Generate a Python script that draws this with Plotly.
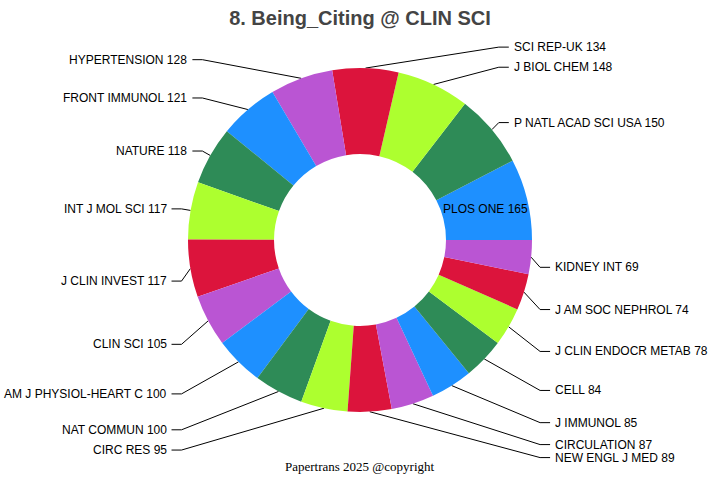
import numpy as np
import plotly.graph_objects as go

# ---- data ----
journals = ["PLOS ONE", "P NATL ACAD SCI USA", "J BIOL CHEM", "SCI REP-UK",
            "HYPERTENSION", "FRONT IMMUNOL", "NATURE", "INT J MOL SCI",
            "J CLIN INVEST", "CLIN SCI", "AM J PHYSIOL-HEART C", "NAT COMMUN",
            "CIRC RES", "NEW ENGL J MED", "CIRCULATION", "J IMMUNOL", "CELL",
            "J CLIN ENDOCR METAB", "J AM SOC NEPHROL", "KIDNEY INT"]
counts = [165, 150, 148, 134, 128, 121, 118, 117, 117, 105,
          100, 100, 95, 89, 87, 85, 84, 78, 74, 69]
palette = ["#1E90FF", "#2E8B57", "#ADFF2F", "#DC143C", "#BA55D3"]

title_text = "8. Being_Citing @ CLIN SCI"
footer_text = "Papertrans 2025 @copyright"

# ---- geometry (pixels) ----
W, H = 720, 480
cx, cy = 360, 240
R = 172          # outer radius
HOLE = 0.5
R1 = R + 9       # first bend radius of leader lines
SEG2 = 10        # horizontal part of leader line
GAP = 3
MIN_DY = 13
FONT = "Liberation Sans, Arial, sans-serif"

vals = np.array(counts, dtype=float)
ends = np.cumsum(vals) / vals.sum() * 360
starts = ends - vals / vals.sum() * 360
mids = np.deg2rad((starts + ends) / 2)   # counterclockwise from 3 o'clock

colors = [palette[i % len(palette)] for i in range(len(counts))]

fig = go.Figure()
# plotly puts the far edge of the first slice at `rotation` when counterclockwise
fig.add_trace(go.Pie(
    labels=journals, values=counts, sort=False,
    direction="counterclockwise", rotation=90 - (ends[0] - starts[0]), hole=HOLE,
    marker=dict(colors=colors, line=dict(width=0)),
    textinfo="none", hoverinfo="label+value", showlegend=False,
    domain=dict(x=[(cx - R) / W, (cx + R) / W],
                y=[(H - cy - R) / H, (H - cy + R) / H]),
))

# ---- label layout ----
items = []
for i in range(1, len(counts)):
    s, c = np.sin(mids[i]), np.cos(mids[i])
    side = 1 if c >= 0 else -1
    if s > 0:
        y = cy - R1 * s - 30 * max(0.0, s - 0.6)   # spread the top labels a bit
    else:
        y = cy - R1 * s * 1.15 + 6.5               # spread the bottom labels
    grp = "up" if s > 0.3 else "down"
    items.append(dict(i=i, s=s, c=c, side=side, grp=grp, y=y))

# no overlap on each side
for side in (1, -1):
    sel = sorted([it for it in items if it["side"] == side], key=lambda d: d["y"])
    for a, b in zip(sel, sel[1:]):
        if b["y"] - a["y"] < MIN_DY:
            b["y"] = a["y"] + MIN_DY

# aligned bend x per side / group
bend = {}
for it in items:
    key = (it["side"], it["grp"])
    bend[key] = max(bend.get(key, 0), R1 * abs(it["c"]))

lx, ly = [], []
annotations = []
for it in items:
    i = it["i"]
    bx = cx + it["side"] * bend[(it["side"], it["grp"])]
    ex = bx + it["side"] * SEG2
    px = cx + R * it["c"]
    py = cy - R * it["s"]
    lx += [px, bx, ex, None]
    ly += [py, it["y"], it["y"], None]
    annotations.append(dict(
        x=ex + it["side"] * GAP, y=it["y"], xref="x", yref="y",
        text=f"{journals[i]} {counts[i]}", showarrow=False,
        xanchor="left" if it["side"] > 0 else "right", yanchor="middle",
        font=dict(family=FONT, size=12, color="black")))

# first slice label sits inside the ring
rm = R * (1 + HOLE) / 2
annotations.append(dict(
    x=cx + rm * np.cos(mids[0]), y=cy - rm * np.sin(mids[0]), xref="x", yref="y",
    text=f"{journals[0]} {counts[0]}", showarrow=False,
    xanchor="center", yanchor="middle",
    font=dict(family=FONT, size=12, color="black")))

annotations.append(dict(
    x=cx, y=466, xref="x", yref="y", text=footer_text, showarrow=False,
    xanchor="center", yanchor="middle",
    font=dict(family="Liberation Serif, Times New Roman, serif", size=13, color="black")))

fig.add_trace(go.Scatter(x=lx, y=ly, mode="lines", line=dict(color="black", width=1),
                         hoverinfo="skip", showlegend=False))

fig.update_layout(
    width=W, height=H,
    margin=dict(l=0, r=0, t=0, b=0),
    paper_bgcolor="white", plot_bgcolor="rgba(0,0,0,0)",
    title=dict(text=title_text, x=0.5, xanchor="center", y=1 - 18 / H, yanchor="middle",
               font=dict(family=FONT, size=20, color="#444444", weight="bold")),
    xaxis=dict(range=[0, W], visible=False, fixedrange=True),
    yaxis=dict(range=[H, 0], visible=False, fixedrange=True),
    annotations=annotations,
)

# drop the browser's default 8px body margin so the figure fills the window
fig.write_html("out.html", config={"displayModeBar": False},
               post_script="document.body.style.margin = '0px';")
